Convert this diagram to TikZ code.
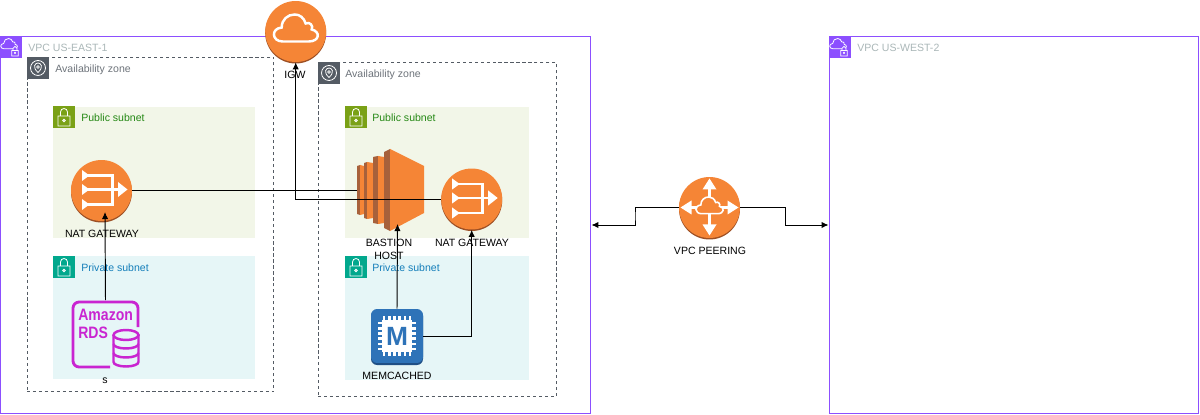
\documentclass[tikz,border=0pt]{standalone}
\usepackage{fontspec}
\setmainfont{Liberation Sans}
\usetikzlibrary{arrows.meta}
\definecolor{vpcpurple}{HTML}{8C4FFF}
\definecolor{vpctext}{HTML}{AAB7B8}
\definecolor{azgray}{HTML}{545B64}
\definecolor{pubgreen}{HTML}{7AA116}
\definecolor{pubfill}{HTML}{F2F6E8}
\definecolor{pubtext}{HTML}{248814}
\definecolor{privteal}{HTML}{01A88D}
\definecolor{privfill}{HTML}{E6F6F7}
\definecolor{privtext}{HTML}{147EBA}
\definecolor{awsorange}{HTML}{F58536}
\definecolor{awsdark}{HTML}{9D5025}
\definecolor{memblue}{HTML}{2E73B8}
\definecolor{memdark}{HTML}{1F4F85}
\definecolor{rdspink}{HTML}{C925D1}
\tikzset{
  vpcbox/.style={draw=vpcpurple,line width=.55pt,inner sep=0pt},
  azbox/.style={draw=azgray,line width=.55pt,dash pattern=on 1.8pt off 1.6pt,inner sep=0pt},
  subnetbox/.style={inner sep=0pt},
  badge/.style={minimum size=.44cm,inner sep=0pt},
  ball/.style={circle,fill=awsorange,minimum size=1.22cm,inner sep=0pt},
  title/.style={anchor=west,inner sep=0pt,font=\fontsize{6}{7}\selectfont},
  caption/.style={align=center,inner sep=0pt,font=\fontsize{6}{7}\selectfont},
  conn/.style={line width=.55pt,-{Latex[length=4pt,width=3.6pt]}},
  plainconn/.style={line width=.55pt},
  glyph/.style={draw=white,line width=1.5pt},
  thin glyph/.style={draw=white,line width=.45pt},
}
\newcommand{\cloudshape}{(-13,10) -- (13,10) .. controls (24,10) and (25,0) .. (16,-2) .. controls (18,-6) and (14,-10) .. (10,-8) .. controls (8,-14) and (4,-17) .. (-1,-17) .. controls (-8,-17) and (-14,-12) .. (-14,-4) .. controls (-25,-3) and (-24,10) .. (-13,10) -- cycle}
\newcommand{\lockshape}{(-6,-1) rectangle (6,9) (-3.5,-1) -- (-3.5,-5) arc (180:360:3.5) -- (3.5,-1) (0,3.5) circle (1.2)}
\begin{document}
\begin{tikzpicture}[x=0.02cm,y=-0.02cm]
\useasboundingbox (0,0) rectangle (1200,415);
\fill[white] (0,0) rectangle (1200,415);

% vpc frames
\node[vpcbox,minimum width=11.82cm,minimum height=7.56cm] (vpc1) at (295.5,225) {};
\node[vpcbox,minimum width=7.40cm,minimum height=7.56cm] (vpc2) at (1014,225) {};
\node[badge,fill=vpcpurple] (vpc1tag) at (11,47) {};
\node[badge,fill=vpcpurple] (vpc2tag) at (840,47) {};
\foreach \name in {vpc1tag,vpc2tag}{
  \begin{scope}[shift={(\name.center)}]
    \draw[thin glyph,shift={(-2,-2)},scale=.38] \cloudshape;
    \draw[thin glyph,fill=vpcpurple,shift={(4,4)},scale=.55] \lockshape;
  \end{scope}
}
\node[title,text=vpctext] (vpc1title) at (28,48) {VPC US-EAST-1};
\node[title,text=vpctext] (vpc2title) at (857,48) {VPC US-WEST-2};

% availability zones
\node[azbox,minimum width=4.94cm,minimum height=6.70cm] (az1) at (150.5,224.5) {};
\node[azbox,minimum width=4.76cm,minimum height=6.70cm] (az2) at (437,229.5) {};
\foreach \name/\cx/\cy in {az1tag/38/68,az2tag/329/73}{
  \node[badge,fill=azgray] (\name) at (\cx,\cy) {};
  \draw[thin glyph] (\cx,\cy) circle (7.5);
  \draw[thin glyph] (\cx,\cy+4.5) .. controls (\cx-6,\cy-1) and (\cx-3,\cy-5) .. (\cx,\cy-5) .. controls (\cx+3,\cy-5) and (\cx+6,\cy-1) .. (\cx,\cy+4.5);
  \draw[thin glyph] (\cx,\cy-1) circle (1.4);
}
\node[title,text=azgray!85] (az1title) at (55,70) {Availability zone};
\node[title,text=azgray!85] (az2title) at (345,74.5) {Availability zone};

% subnets
\node[subnetbox,fill=pubfill,minimum width=4.04cm,minimum height=2.62cm] (pub1) at (154,172.5) {};
\node[subnetbox,fill=privfill,minimum width=4.04cm,minimum height=2.46cm] (priv1) at (154,317.5) {};
\node[subnetbox,fill=pubfill,minimum width=3.68cm,minimum height=2.62cm] (pub2) at (437,172.5) {};
\node[subnetbox,fill=privfill,minimum width=3.68cm,minimum height=2.48cm] (priv2) at (437,318) {};
\foreach \name/\tint/\cx/\cy in {pub1tag/pubgreen/64/117,priv1tag/privteal/64/267,pub2tag/pubgreen/356/117,priv2tag/privteal/356/267}{
  \node[badge,fill=\tint] (\name) at (\cx,\cy) {};
  \draw[thin glyph,shift={(\name.center)}] \lockshape;
}
\node[title,text=pubtext] (pub1title) at (81,118) {Public subnet};
\node[title,text=privtext] (priv1title) at (81,268) {Private subnet};
\node[title,text=pubtext] (pub2title) at (372,118) {Public subnet};
\node[title,text=privtext] (priv2title) at (372,268) {Private subnet};

% orange round icons
\foreach \name/\cx/\cy in {nat1/101.5/190.5,nat2/471.7/199,igw/295.7/31.5,peer/709.5/207.5}{
  \fill[awsdark] (\cx,\cy+1.5) circle (30.5);
  \node[ball] (\name) at (\cx,\cy) {};
}
\foreach \name in {nat1,nat2}{
  \begin{scope}[shift={(\name.center)}]
    \draw[glyph] (-14,-15) -- (11,-15) -- (11,14) -- (-14,14);
    \draw[glyph] (-14,-1) -- (18,-1);
    \foreach \yy in {-15,-1,14}{\fill[white] (-19.5,\yy-5.5) -- (-12,\yy) -- (-19.5,\yy+5.5) -- cycle;}
    \fill[white] (16.5,-8.5) -- (26,-1) -- (16.5,6.5) -- cycle;
  \end{scope}
}
\draw[draw=white,line width=1.4pt,shift={(igw.center)}] \cloudshape;
\begin{scope}[shift={(peer.center)}]
  \draw[white,line width=2pt] (0,-22) -- (0,22) (-22,0) -- (22,0);
  \fill[white] (0,-29) -- (-7,-18) -- (7,-18) -- cycle;
  \fill[white] (0,28) -- (-7,17) -- (7,17) -- cycle;
  \fill[white] (-29,0) -- (-18,-7) -- (-18,7) -- cycle;
  \fill[white] (29,0) -- (18,-7) -- (18,7) -- cycle;
  \draw[draw=white,line width=.9pt,fill=awsorange,scale=.62] \cloudshape;
\end{scope}

% bastion host
\node[inner sep=0pt,minimum width=1.34cm,minimum height=1.64cm] (bastion) at (390.5,190.5) {};
\foreach \xa/\xb/\xc/\ya/\yb in {357/360/364/165/215,364/367/373/162/219,373/378/384/156/224}{
  \fill[awsdark!90] (\xa,\ya+1) -- (\xb,\ya) -- (\xb,\yb) -- (\xa,\yb-1) -- cycle;
  \fill[awsorange] (\xb,\ya) -- (\xc,\ya+1) -- (\xc,\yb-1) -- (\xb,\yb) -- cycle;
}
\fill[awsdark!90] (384,152) -- (390,149) -- (390,231) -- (384,228) -- cycle;
\fill[awsorange] (390,149) -- (424,166) -- (424,213) -- (390,231) -- cycle;

% memcached
\fill[memdark,rounded corners=3.5pt] (371,310) rectangle (423,365);
\node[fill=memblue,rounded corners=3.5pt,inner sep=0pt,minimum width=1.04cm,minimum height=1.08cm] (mem) at (397,336) {};
\begin{scope}[shift={(mem.center)}]
  \foreach \tt in {-13,-7.8,-2.6,2.6,7.8,13}{
    \fill[white] (\tt-1.3,-20) rectangle (\tt+1.3,20);
    \fill[white] (-19,\tt-1.3) rectangle (19,\tt+1.3);
  }
  \fill[white] (-15,-16) rectangle (15,16);
  \node[text=memblue,inner sep=0pt,font=\fontsize{15}{15}\bfseries\selectfont] (memM) at (0,0) {M};
\end{scope}

% rds
\node[inner sep=0pt,minimum width=1.36cm,minimum height=1.36cm] (rds) at (105.5,334.5) {};
\draw[rdspink,line width=1.6pt,rounded corners=3.5pt] (110,367) -- (73,367) -- (73,302) -- (138,302) -- (138,327);
\node[anchor=west,inner sep=0pt,text=rdspink,font=\fontsize{9.4}{9.4}\bfseries\selectfont] (rdstext1) at (78,315) {\scalebox{.85}[1]{Amazon}};
\node[anchor=west,inner sep=0pt,text=rdspink,font=\fontsize{9.4}{9.4}\bfseries\selectfont] (rdstext2) at (78,333) {\scalebox{.85}[1]{RDS}};
\draw[rdspink,line width=1.4pt] (126,335) ellipse (12.5 and 5);
\draw[rdspink,line width=1.4pt] (113.5,335) -- (113.5,362) arc (180:360:12.5 and -4.5) -- (138.5,335);
\draw[rdspink,line width=1.4pt] (113.5,344) arc (180:360:12.5 and -4.5);
\draw[rdspink,line width=1.4pt] (113.5,353) arc (180:360:12.5 and -4.5);

% connectors
\coordinate (nat1in) at (105,212);
\coordinate (bastionin) at (397.5,224);
\coordinate (bendw) at (635,216);
\coordinate (bende) at (785,216);
\draw[plainconn] (nat1.east) -- (bastion.west);
\draw[conn] (nat2.west) -| (igw.south);
\draw[conn] (rds.north) -- (nat1in);
\draw[conn] (mem.north) -- (bastionin);
\draw[conn] (mem.east) -| (nat2.south);
\draw[conn] (peer.west) -| (bendw) |- (vpc1.east);
\draw[conn] (peer.east) -| (bende) |- (vpc2.west);

% labels
\node[caption] (nat1label) at (102,233.5) {NAT GATEWAY};
\node[caption] (nat2label) at (472,242.5) {NAT GATEWAY};
\node[caption] (igwlabel) at (295,75) {IGW};
\node[caption,text width=1.2cm] (bastionlabel) at (389,249.5) {BASTION\\[.6pt]HOST};
\node[caption] (memlabel) at (397,376) {MEMCACHED};
\node[caption] (rdslabel) at (105,381) {s};
\node[caption] (peerlabel) at (710,251) {VPC PEERING};
\end{tikzpicture}
\end{document}
